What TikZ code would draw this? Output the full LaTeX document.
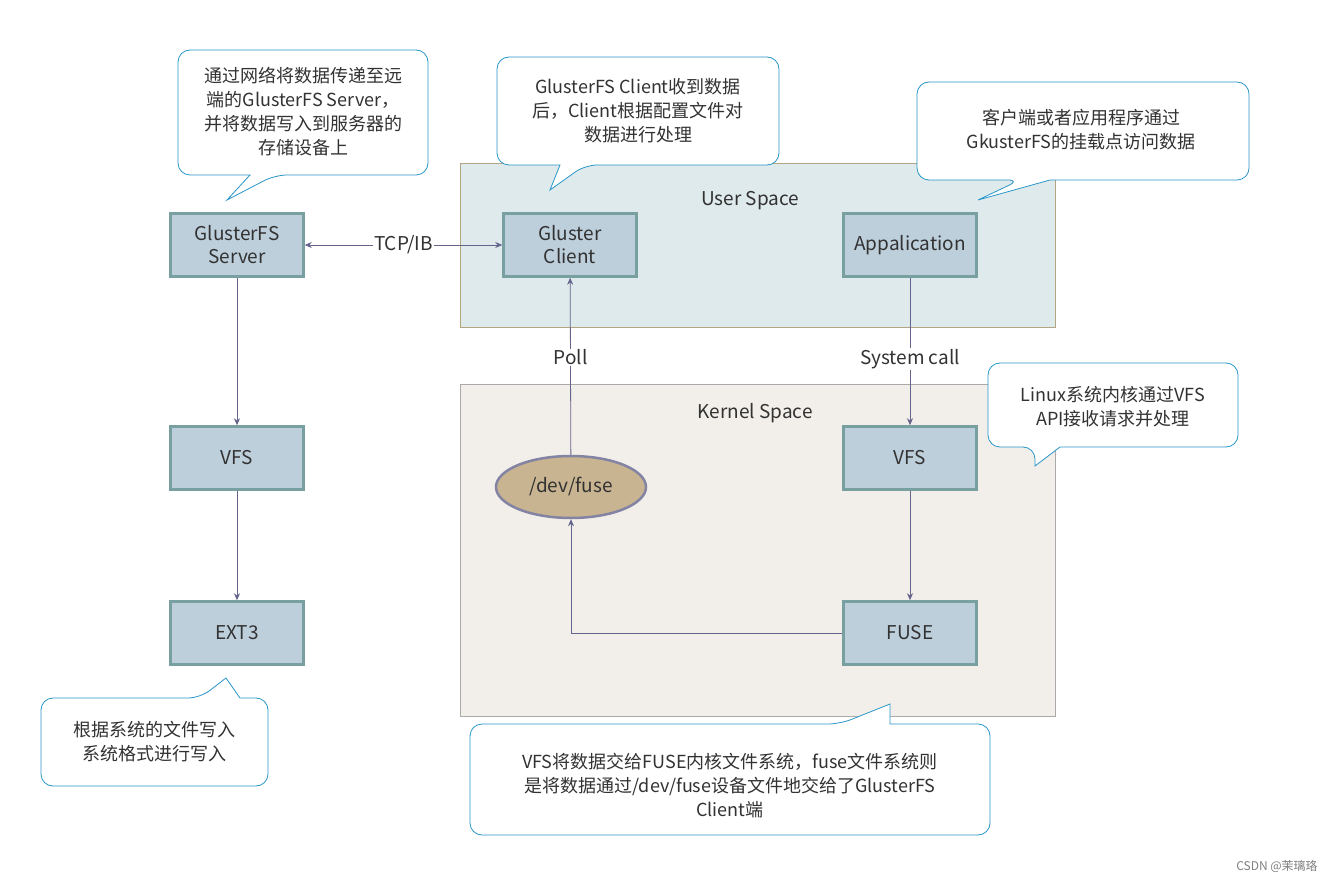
\documentclass[tikz,border=0pt]{standalone}
\usepackage{fontspec}
\setmainfont{Noto Sans CJK SC}
\usetikzlibrary{arrows.meta,shapes.geometric}
\definecolor{boxf}{RGB}{190,207,220}
\definecolor{boxd}{RGB}{120,160,160}
\definecolor{usf}{RGB}{222,234,235}
\definecolor{usd}{RGB}{180,165,130}
\definecolor{ksf}{RGB}{242,239,234}
\definecolor{ksd}{RGB}{170,170,170}
\definecolor{arr}{RGB}{100,100,140}
\definecolor{cal}{RGB}{40,150,200}
\definecolor{txt}{RGB}{50,50,50}
\definecolor{devf}{RGB}{200,180,145}
\begin{document}
\begin{tikzpicture}[x=1pt,y=-1pt,
 box/.style={draw=boxd,line width=2.5pt,fill=boxf,minimum width=133pt,minimum height=63pt,align=center,font=\fontsize{19}{23}\selectfont,text=txt},
 ar/.style={draw=arr,line width=0.8pt,-{Stealth[length=7pt,width=6pt]}},
 lbl/.style={font=\fontsize{19}{23}\selectfont,text=txt,fill=white,inner sep=1pt},
 call/.style={draw=cal,line width=0.8pt,fill=white},
 ct/.style={font=\fontsize{18}{24}\selectfont,text=txt,align=center}]
\useasboundingbox (0,0) rectangle (1342,882);
\fill[white] (0,0) rectangle (1342,882);
\draw[fill=usf,draw=usd] (460,163) rectangle (1055,327);
\draw[fill=ksf,draw=ksd] (460,384) rectangle (1055,716);
\node[font=\fontsize{19}{23}\selectfont,text=txt] (us) at (750,201) {User Space};
\node[font=\fontsize{19}{23}\selectfont,text=txt] (ks) at (755,413) {Kernel Space};
\node[box] (srv) at (237,245) {GlusterFS\\Server};
\node[box] (cli) at (570,245) {Gluster\\Client};
\node[box] (app) at (910,245) {Appalication};
\node[box] (vfsl) at (237,458) {VFS};
\node[box] (ext) at (237,633) {EXT3};
\node[box] (vfsr) at (910,458) {VFS};
\node[box] (fuse) at (910,633) {FUSE};
\node[ellipse,draw=arr!80,line width=2.5pt,fill=devf,minimum width=150pt,minimum height=62pt,font=\fontsize{19}{23}\selectfont,text=txt] (dev) at (571,487) {/dev/fuse};
\draw[ar,{Stealth[length=7pt,width=6pt]}-{Stealth[length=7pt,width=6pt]}] (srv) -- node[lbl] {TCP/IB} (cli);
\draw[ar] (srv) -- (vfsl);
\draw[ar] (vfsl) -- (ext);
\draw[ar] (app) -- node[lbl,pos=0.55] {System call} (vfsr);
\draw[ar] (vfsr) -- (fuse);
\draw[ar] (fuse.west) -| (dev.south);
\draw[ar] (dev) -- node[lbl,pos=0.55] {Poll} (cli);
% callouts
\draw[call,rounded corners=12] (250,175) -- (178,175) -- (178,50) -- (428,50) -- (428,175) -- (275,175) [sharp corners]-- (227,200) -- cycle;
\node[ct] (c1) at (303,112) {通过网络将数据传递至远\\端的GlusterFS Server，\\并将数据写入到服务器的\\存储设备上};
\draw[call,rounded corners=12] (560,165) -- (497,165) -- (497,57) -- (779,57) -- (779,165) -- (585,165) [sharp corners]-- (550,190) -- cycle;
\node[ct] (c2) at (638,111) {GlusterFS Client收到数据\\后，Client根据配置文件对\\数据进行处理};
\draw[call,rounded corners=12] (1050,180) -- (1249,180) -- (1249,82) -- (917,82) -- (917,180) -- (1020,180) [sharp corners]-- (978,200) -- cycle;
\node[ct] (c3) at (1081,130) {客户端或者应用程序通过\\GkusterFS的挂载点访问数据};
\draw[call,rounded corners=12] (1060,447) -- (1238,447) -- (1238,363) -- (988,363) -- (988,447) -- (1035,447) [sharp corners]-- (1035,466) -- cycle;
\node[ct] (c4) at (1113,407) {Linux系统内核通过VFS\\API接收请求并处理};
\draw[call,rounded corners=12] (240,698) -- (268,698) -- (268,786) -- (41,786) -- (41,698) -- (200,698) [sharp corners]-- (226,678) -- cycle;
\node[ct] (c5) at (154,742) {根据系统的文件写入\\系统格式进行写入};
\draw[call,rounded corners=12] (890,724) -- (990,724) -- (990,835) -- (470,835) -- (470,724) -- (840,724) [sharp corners]-- (890,704) -- cycle;
\node[ct] (c6) at (730,786) {VFS将数据交给FUSE内核文件系统，fuse文件系统则\\是将数据通过/dev/fuse设备文件地交给了GlusterFS\\Client端};
\node[font=\fontsize{12}{14}\selectfont,text=gray] (wm) at (1277,866) {CSDN @茉璃珞};
\end{tikzpicture}
\end{document}
